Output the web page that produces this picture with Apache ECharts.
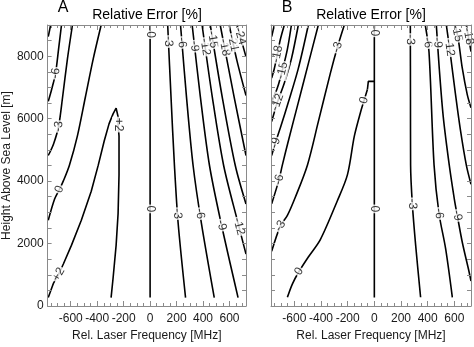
<!DOCTYPE html>
<html>
<head>
<meta charset="utf-8">
<script src="https://cdn.jsdelivr.net/npm/echarts@6/dist/echarts.min.js"></script>
<style>
  html, body { margin: 0; padding: 0; background: #fff; }
  #chart { width: 474px; height: 347px; }
</style>
</head>
<body>
<div id="chart"></div>
<script>
// Tick labels
const freqTicks = [-600, -400, -200, 0, 200, 400, 600];
const heightTicks = [0, 2000, 4000, 6000, 8000];

// ---- Panel A contour lines: [relative laser frequency (MHz), height (m)] ----
const A_plus2 = [[-770,270],[-730,734],[-692,1013],[-655,1353],[-595,1941],[-520,2746],[-445,3675],[-392,4511],[-347,5285],[-310,5842],[-280,6152],[-257,6338],[-242,6060],[-242,5811],[-235,5440],[-235,4201],[-242,2963],[-257,1941],[-280,889],[-295,270]];
const A_zeroLeft = [[-370,9000],[-430,7916],[-490,6678],[-550,5440],[-610,4511],[-655,4015],[-685,3737],[-722,3427],[-770,2746]];
const A_m3Left = [[-587,9000],[-625,7916],[-662,6678],[-692,5749],[-730,5192],[-770,4820]];
const A_m6Left = [[-670,9000],[-692,8226],[-715,7452],[-745,6926],[-770,6554]];
const A_m9Left = [[-752,9000],[-770,8628]];
const A_zero = [[0,9000],[0,270]];
const A_m3 = [[133,9000],[158,6700],[184,4500],[212,2650],[268,270]];
const A_m6 = [[230,9000],[275,6700],[325,4500],[388,2650],[485,270]];
const A_m9 = [[318,9000],[380,6700],[449,4500],[537,2650],[665,270]];
const A_m12 = [[393,9000],[470,6700],[556,4500],[665,2650],[725,1660]];
const A_m15 = [[455,9000],[545,6700],[644,4500],[725,3270]];
const A_m18 = [[530,9000],[635,6700],[725,4820]];
const A_m21 = [[598,9000],[657,7850],[725,6740]];
const A_m24 = [[658,9000],[725,7980]];

// Contour labels for panel A: [text, frequency, height]
const labelsA = [
  ['0',0,8690],['-3',139,8470],['-6',241,8440],['-9',336,8320],['-12',416,8300],
  ['-15',473,8535],['-18',563,8280],['-21',627,8430],['-24',682,8640],
  ['0',0,3110],['-3',207,2960],['-6',377,2960],['-9',540,2590],['-12',671,2550],
  ['-6',-715,7452],['-3',-692,5749],['0',-685,3737],['+2',-692,1013],['+2',-242,5811]
];

// ---- Panel B contour lines ----
const B_zero = [[0,9000],[0,270]];
const B_zeroStep = [[0,7195],[-45,7195],[-52,6935]];
const B_zeroBranch = [[-52,6935],[-77,6585],[-103,6214],[-150,5440],[-202,4201],[-278,3365],[-405,2127],[-495,1570],[-565,1105],[-615,703],[-652,279]];
const B_m3 = [[270,9000],[271,6700],[272,4511],[285,3272],[310,1941],[347,279]];
const B_m6 = [[382,9000],[410,8133],[448,4511],[485,2963],[535,1827],[585,279]];
const B_m9 = [[465,9000],[487,7607],[517,6059],[562,4511],[600,3427],[622,2900],[660,2034],[710,1105],[725,800]];
const B_m12 = [[540,9000],[570,8071],[607,6833],[645,5657],[690,4511],[725,3900]];
const B_m15 = [[607,9000],[630,8535],[660,7607],[697,6771],[725,6350]];
const B_m18 = [[690,9000],[709,8535],[725,8150]];
const B_m3Left = [[-225,9000],[-277,8288],[-330,7452],[-420,5904],[-502,4511],[-592,3489],[-652,2901],[-705,2560],[-770,1755]];
const B_m6Left = [[-420,9000],[-495,7762],[-570,6523],[-645,5285],[-690,4511],[-715,4047],[-770,3272]];
const B_m9Left = [[-495,9000],[-570,7610],[-645,6523],[-697,5811],[-742,5223],[-770,4820]];
const B_m12Left = [[-570,9000],[-622,7915],[-675,7141],[-727,6523],[-770,5905]];
const B_m15Left = [[-622,9000],[-652,8226],[-690,7545],[-727,6988],[-770,6523]];
const B_m18Left = [[-675,9000],[-705,8535],[-727,8071],[-750,7607],[-770,7298]];
const B_m21Left = [[-750,9000],[-770,8628]];

const labelsB = [
  ['0',0,8750],['0',0,3110],['0',-77,6585],['0',-565,1105],
  ['-3',270,8535],['-3',285,3272],['-6',400,8433],['-6',485,2963],
  ['-9',474,8433],['-9',622,2900],['-12',563,8278],['-15',620,8743],['-18',705,8640],
  ['-3',-277,8288],['-3',-705,2560],['-6',-715,4047],['-9',-742,5223],
  ['-12',-727,6523],['-15',-690,7545],['-18',-727,8071]
];

const contoursA = [A_plus2, A_zeroLeft, A_m3Left, A_m6Left, A_m9Left, A_zero, A_m3, A_m6, A_m9, A_m12, A_m15, A_m18, A_m21, A_m24];
const contoursB = [B_zero, B_zeroStep, B_zeroBranch, B_m3, B_m6, B_m9, B_m12, B_m15, B_m18, B_m3Left, B_m6Left, B_m9Left, B_m12Left, B_m15Left, B_m18Left, B_m21Left];
const straightLines = new Set([A_plus2, B_zeroStep]);

const FONT = '"Liberation Sans", Arial, Helvetica, sans-serif';
const AXIS_COLOR = '#8a8a8a';
const TEXT_COLOR = '#1a1a1a';

function xAxis(grid, position, withLabels) {
  return {
    type: 'value', gridIndex: grid, position: position,
    min: -775, max: 725, splitNumber: 7, z: 10,
    axisLine: { show: true, onZero: false, lineStyle: { color: AXIS_COLOR, width: 1 } },
    axisTick: { show: true, inside: true, length: 5, lineStyle: { color: AXIS_COLOR } },
    minorTick: { show: true, splitNumber: 4, length: 3, lineStyle: { color: AXIS_COLOR } },
    splitLine: { show: false },
    axisLabel: {
      show: withLabels, margin: 7, fontSize: 12, color: TEXT_COLOR, fontFamily: FONT,
      formatter: v => freqTicks.includes(v) ? String(v) : ''
    },
    name: withLabels ? 'Rel. Laser Frequency [MHz]' : '',
    nameLocation: 'middle', nameGap: 24,
    nameTextStyle: { fontSize: 12, color: TEXT_COLOR, fontFamily: FONT }
  };
}

function yAxis(grid, position, withLabels, withName) {
  return {
    type: 'value', gridIndex: grid, position: position,
    min: 0, max: 9000, interval: 500, z: 10,
    axisLine: { show: true, onZero: false, lineStyle: { color: AXIS_COLOR, width: 1 } },
    axisTick: { show: true, inside: true, length: 4, lineStyle: { color: AXIS_COLOR } },
    splitLine: { show: false },
    axisLabel: {
      show: withLabels, margin: 4, fontSize: 12, color: TEXT_COLOR, fontFamily: FONT,
      formatter: v => heightTicks.includes(v) ? String(v) : ''
    },
    name: withName ? 'Height Above Sea Level [m]' : '',
    nameLocation: 'middle', nameGap: 33,
    nameTextStyle: { fontSize: 12, color: TEXT_COLOR, fontFamily: FONT }
  };
}

function contourSeries(lines, axisIdx) {
  return lines.map(pts => ({
    type: 'line', xAxisIndex: axisIdx, yAxisIndex: axisIdx,
    data: pts, showSymbol: false, symbol: 'none', clip: true,
    smooth: straightLines.has(pts) ? false : 0.3,
    lineStyle: { color: '#000', width: 1.6 }, z: 2, silent: true
  }));
}

function labelSeries(labels, axisIdx, angles) {
  return {
    type: 'scatter', xAxisIndex: axisIdx, yAxisIndex: axisIdx,
    symbolSize: 0, z: 5, silent: true,
    data: labels.map((l, i) => ({
      name: l[0], value: [l[1], l[2]],
      label: { rotate: angles ? angles[i] : 0 }
    })),
    label: {
      show: true, position: 'inside', formatter: '{b}',
      fontSize: 12, lineHeight: 12, color: '#000', fontFamily: FONT,
      backgroundColor: '#fff', padding: [0, 1]
    }
  };
}

function buildOption(anglesA, anglesB) {
  return {
    animation: false,
    backgroundColor: '#fff',
    grid: [
      { left: 46, top: 25, width: 200, height: 291, containLabel: false },
      { left: 271, top: 25, width: 200, height: 291, containLabel: false }
    ],
    xAxis: [xAxis(0, 'bottom', true), xAxis(0, 'top', false), xAxis(1, 'bottom', true), xAxis(1, 'top', false)],
    yAxis: [yAxis(0, 'left', true, true), yAxis(0, 'right', false, false), yAxis(1, 'left', false, false), yAxis(1, 'right', false, false)],
    graphic: [
      { type: 'text', x: 63, y: 8, style: { text: 'A', fontSize: 16, fontFamily: FONT, fill: '#000', textAlign: 'center', textVerticalAlign: 'middle' } },
      { type: 'text', x: 147, y: 15, style: { text: 'Relative Error [%]', fontSize: 14, fontFamily: FONT, fill: '#000', textAlign: 'center', textVerticalAlign: 'middle' } },
      { type: 'text', x: 287, y: 8, style: { text: 'B', fontSize: 16, fontFamily: FONT, fill: '#000', textAlign: 'center', textVerticalAlign: 'middle' } },
      { type: 'text', x: 371, y: 15, style: { text: 'Relative Error [%]', fontSize: 14, fontFamily: FONT, fill: '#000', textAlign: 'center', textVerticalAlign: 'middle' } }
    ],
    series: [
      ...contourSeries(contoursA, 0),
      ...contourSeries(contoursB, 2),
      labelSeries(labelsA, 0, anglesA),
      labelSeries(labelsB, 2, anglesB)
    ]
  };
}

// Orient each contour label along the nearest contour segment (in screen space)
function segDist(p, a, b) {
  const dx = b[0] - a[0], dy = b[1] - a[1];
  const len2 = dx * dx + dy * dy || 1;
  let t = ((p[0] - a[0]) * dx + (p[1] - a[1]) * dy) / len2;
  t = Math.max(0, Math.min(1, t));
  const qx = a[0] + t * dx, qy = a[1] + t * dy;
  return Math.hypot(p[0] - qx, p[1] - qy);
}

function labelAngles(chart, labels, lines, axisIdx) {
  const finder = { xAxisIndex: axisIdx, yAxisIndex: axisIdx };
  return labels.map(l => {
    const p = chart.convertToPixel(finder, [l[1], l[2]]);
    let best = Infinity, ang = 0;
    lines.forEach(pts => {
      for (let i = 0; i < pts.length - 1; i++) {
        const a = chart.convertToPixel(finder, pts[i]);
        const b = chart.convertToPixel(finder, pts[i + 1]);
        const d = segDist(p, a, b);
        if (d < best) {
          best = d;
          ang = Math.atan2(-(b[1] - a[1]), b[0] - a[0]) * 180 / Math.PI;
        }
      }
    });
    while (ang >= 90) ang -= 180;
    while (ang < -90) ang += 180;
    return ang;
  });
}

const chart = echarts.init(document.getElementById('chart'), null, { renderer: 'canvas' });
chart.setOption(buildOption(null, null));
const anglesA = labelAngles(chart, labelsA, contoursA, 0);
const anglesB = labelAngles(chart, labelsB, contoursB, 2);
chart.setOption(buildOption(anglesA, anglesB), true);
</script>
</body>
</html>
